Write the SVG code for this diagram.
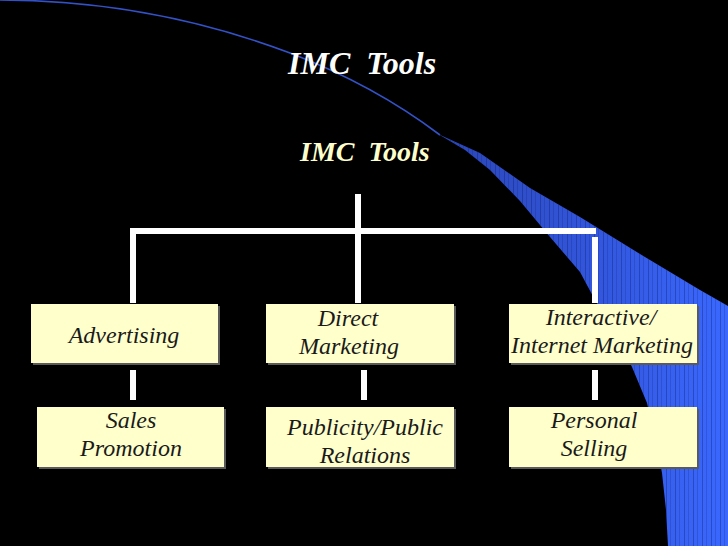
<svg xmlns="http://www.w3.org/2000/svg" width="728" height="546" viewBox="0 0 728 546">
<defs>
<linearGradient id="bandGrad" gradientUnits="userSpaceOnUse" x1="430" y1="0" x2="728" y2="0">
<stop offset="0" stop-color="#2a44b4"/>
<stop offset="0.6" stop-color="#3358e0"/>
<stop offset="1" stop-color="#3a68ff"/>
</linearGradient>
<pattern id="stripes" patternUnits="userSpaceOnUse" width="9" height="10">
<rect x="0" y="0" width="1" height="10" fill="#0a1a60" opacity="0.35"/>
<rect x="4" y="0" width="1" height="10" fill="#0a1a60" opacity="0.2"/>
</pattern>
<style>
text{font-family:"Liberation Serif","Times New Roman",Times,Tinos,"Nimbus Roman","Nimbus Roman No9 L","DejaVu Serif","Noto Serif",FreeSerif,serif}
.title{font-style:italic;font-weight:bold}
.box{fill:#ffffcc}
.shadow{fill:#5a5a5a}
.label{font-style:italic;font-size:24px;fill:#1a1a1a;text-anchor:middle}
.conn{fill:#ffffff}
</style>
</defs>
<rect x="0" y="0" width="728" height="546" fill="#000000"/>
<g id="background-swoosh">
<path d="M -2,0 Q 150,0 290,53 Q 374,85 440,135" fill="none" stroke="#3352c8" stroke-width="1.6"/>
<path d="M 438,134 L 480,153 L 530,188 L 580,217 L 640,254 L 700,290 L 728,306 L 728,546 L 668,546 L 666,510 L 662,473 L 655,438 L 647,403 L 632,367 L 614,332 L 595,300 L 580,272 L 550,237 L 520,201 L 490,170 L 465,150 Z" fill="url(#bandGrad)"/>
<path d="M 438,134 L 480,153 L 530,188 L 580,217 L 640,254 L 700,290 L 728,306 L 728,546 L 668,546 L 666,510 L 662,473 L 655,438 L 647,403 L 632,367 L 614,332 L 595,300 L 580,272 L 550,237 L 520,201 L 490,170 L 465,150 Z" fill="url(#stripes)"/>
</g>
<text id="title" class="title" x="288" y="74" font-size="32" fill="#ffffff" xml:space="preserve">IMC  Tools</text>
<g id="root">
<text class="title" x="300" y="161" font-size="28" fill="#ffffcc" xml:space="preserve">IMC  Tools</text>
</g>
<g id="connectors">
<rect class="conn" x="130" y="228" width="466" height="6"/>
<rect class="conn" x="130" y="228" width="6" height="75"/>
<rect class="conn" x="355" y="194" width="6" height="109"/>
<rect class="conn" x="592" y="237" width="6" height="66"/>
<rect class="conn" x="130" y="370" width="6" height="30"/>
<rect class="conn" x="361" y="370" width="6" height="30"/>
<rect class="conn" x="592" y="370" width="6" height="30"/>
</g>
<g id="advertising">
<rect class="shadow" x="33" y="306" width="187" height="59"/>
<rect class="box" x="31" y="304" width="187" height="59"/>
<text class="label" x="124" y="343">Advertising</text>
</g>
<g id="direct-marketing">
<rect class="shadow" x="268" y="306" width="188" height="59"/>
<rect class="box" x="266" y="304" width="188" height="59"/>
<text class="label" x="348" y="326">Direct</text>
<text class="label" x="349" y="354">Marketing</text>
</g>
<g id="interactive-marketing">
<rect class="shadow" x="511" y="306" width="188" height="59"/>
<rect class="box" x="509" y="304" width="188" height="59"/>
<text class="label" x="601" y="325">Interactive/</text>
<text class="label" x="602" y="353">Internet Marketing</text>
</g>
<g id="sales-promotion">
<rect class="shadow" x="39" y="409" width="187" height="60"/>
<rect class="box" x="37" y="407" width="187" height="60"/>
<text class="label" x="131" y="428">Sales</text>
<text class="label" x="131" y="456">Promotion</text>
</g>
<g id="publicity">
<rect class="shadow" x="268" y="409" width="188" height="60"/>
<rect class="box" x="266" y="407" width="188" height="60"/>
<text class="label" x="365" y="435">Publicity/Public</text>
<text class="label" x="365" y="463">Relations</text>
</g>
<g id="personal-selling">
<rect class="shadow" x="511" y="409" width="188" height="60"/>
<rect class="box" x="509" y="407" width="188" height="60"/>
<text class="label" x="594" y="428">Personal</text>
<text class="label" x="594" y="456">Selling</text>
</g>
</svg>
